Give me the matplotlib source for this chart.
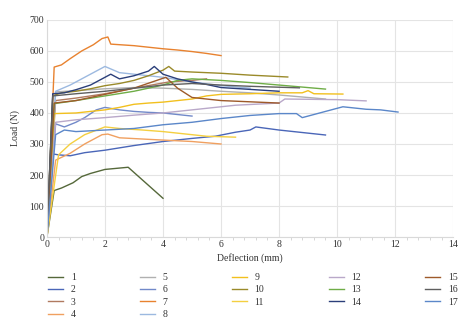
import matplotlib
matplotlib.use("Agg")
import matplotlib.pyplot as plt
from matplotlib.ticker import MultipleLocator

plt.rcParams['font.family'] = ['Liberation Serif', 'DejaVu Serif']

# 하중-처짐 곡선 데이터
names = [str(i) for i in range(1, 18)]

x1 = [0, 0.25, 0.5, 0.9, 1.2, 1.5, 2.0, 2.8, 4.0]
y1 = [0, 150, 158, 175, 195, 205, 218, 225, 125]

x2 = [0, 0.2, 0.4, 0.8, 1.3, 2, 3, 4, 5, 5.8, 6.5, 7, 7.2, 8, 8.5, 9.6]
y2 = [0, 268, 265, 262, 272, 280, 295, 308, 318, 325, 338, 345, 355, 345, 340, 329]

x3 = [0, 0.3, 1, 2, 3, 4.2, 5, 5.5]
y3 = [0, 440, 448, 462, 480, 500, 505, 510]

x4 = [0, 0.3, 0.8, 1.3, 1.9, 2.1, 2.5, 3.5, 5, 6]
y4 = [0, 248, 270, 300, 330, 332, 320, 315, 308, 300]

x5 = [0, 0.3, 1, 2, 3, 4, 5, 6, 7, 8, 9.6]
y5 = [0, 468, 472, 478, 482, 480, 476, 470, 465, 458, 445]

x6 = [0, 0.3, 0.6, 1, 1.3, 1.7, 2, 2.5, 3, 3.5, 4, 4.5, 5]
y6 = [0, 365, 355, 370, 385, 410, 418, 410, 405, 402, 400, 395, 390]

x7 = [0, 0.25, 0.5, 0.8, 1.2, 1.6, 1.9, 2.1, 2.2, 3, 3.5, 4, 4.5, 5, 5.5, 6]
y7 = [0, 548, 555, 575, 600, 620, 640, 645, 622, 617, 612, 607, 603, 598, 592, 585]

x8 = [0, 0.3, 0.8, 1.2, 1.6, 2, 2.5, 3, 4, 5, 6, 7]
y8 = [0, 470, 490, 510, 530, 550, 530, 525, 515, 500, 488, 480]

x9 = [0, 0.25, 1, 2, 2.5, 3, 3.5, 4, 5, 5.5, 6, 7, 8, 8.8, 9, 9.2, 10.2]
y9 = [0, 398, 400, 410, 418, 428, 432, 435, 445, 455, 460, 462, 465, 465, 472, 462, 461]

x10 = [0, 0.2, 0.5, 1, 1.5, 2, 2.5, 3, 3.5, 4, 4.2, 4.4, 5, 6, 7, 8.3]
y10 = [0, 455, 465, 470, 478, 488, 495, 505, 520, 538, 550, 535, 532, 528, 522, 516]

x11 = [0, 0.4, 0.8, 1.3, 2, 2.5, 3.3, 4, 5, 5.5, 6.5]
y11 = [0, 265, 300, 330, 355, 350, 345, 340, 330, 325, 322]

x12 = [0, 0.3, 1, 2, 3, 4, 5.5, 6.5, 8, 8.2, 10, 11]
y12 = [0, 370, 378, 385, 393, 400, 415, 425, 432, 445, 443, 439]

x13 = [0, 0.25, 1, 2, 3, 4, 4.5, 5, 6, 7, 8, 9.6]
y13 = [0, 430, 440, 455, 470, 490, 505, 510, 505, 498, 490, 477]

x14 = [0, 0.2, 0.6, 1, 1.5, 1.8, 2.2, 2.5, 3, 3.5, 3.7, 4, 4.5, 5, 5.5, 6, 7, 8]
y14 = [0, 462, 465, 475, 490, 505, 525, 510, 520, 535, 550, 525, 510, 500, 492, 482, 476, 470]

x15 = [0, 0.25, 1, 2, 3, 4.1, 4.5, 5, 6, 8]
y15 = [0, 432, 440, 460, 480, 515, 480, 450, 440, 432]

x16 = [0, 0.2, 1, 2, 3, 4, 5, 6, 7, 8.7]
y16 = [0, 455, 462, 470, 480, 490, 495, 490, 486, 481]

x17 = [0, 0.3, 0.6, 1, 2, 3, 4, 5, 6, 7, 8, 8.6, 8.8, 10, 10.2, 11, 11.5, 12.1]
y17 = [0, 330, 345, 340, 345, 350, 362, 370, 382, 392, 398, 398, 385, 415, 420, 412, 410, 403]

xs = [x1, x2, x3, x4, x5, x6, x7, x8, x9, x10, x11, x12, x13, x14, x15, x16, x17]
ys = [y1, y2, y3, y4, y5, y6, y7, y8, y9, y10, y11, y12, y13, y14, y15, y16, y17]

colors = ['#55683A', '#4A66B8', '#B07A60', '#F0A060', '#B0B0B0', '#7189C9',
          '#E8822F', '#9CB9E0', '#F2C01E', '#9A8A2A', '#F4CF40', '#B9A8C9',
          '#6FAD47', '#2B3F7A', '#9E5A2A', '#5F5F5F', '#5B87C9']

fig = plt.figure(figsize=(4.74, 3.32), dpi=100)
ax = fig.add_axes([0.099, 0.286, 0.857, 0.654])

for i in range(17):
    ax.plot(xs[i], ys[i], color=colors[i], linewidth=1.0, label=names[i])

ax.set_xlim(0, 14)
ax.set_ylim(0, 700)
ax.xaxis.set_major_locator(MultipleLocator(2))
ax.yaxis.set_major_locator(MultipleLocator(100))
ax.xaxis.set_minor_locator(MultipleLocator(0.4))
ax.grid(True, which='major', color='#E4E4E4', linewidth=0.8)
ax.set_axisbelow(True)
for s in ['top', 'right']:
    ax.spines[s].set_visible(False)
ax.spines['left'].set_color('#D9D9D9')
ax.spines['bottom'].set_color('#D9D9D9')
ax.tick_params(axis='both', which='major', length=0, labelsize=7, colors='#333333', pad=2)
ax.tick_params(axis='x', which='minor', length=2, color='#D0D0D0')

ax.set_xlabel('Deflection (mm)', fontsize=7, color='#333333', labelpad=3)
ax.set_ylabel('Load (N)', fontsize=7, color='#333333', labelpad=7)

fig.legend(loc='upper left', bbox_to_anchor=(0.101, 0.178), ncol=5, frameon=False,
           fontsize=7, handlelength=1.55, columnspacing=6.6, labelspacing=0.35,
           handletextpad=0.8, borderpad=0, borderaxespad=0, labelcolor='#333333')

plt.savefig('out.png', dpi=100)
